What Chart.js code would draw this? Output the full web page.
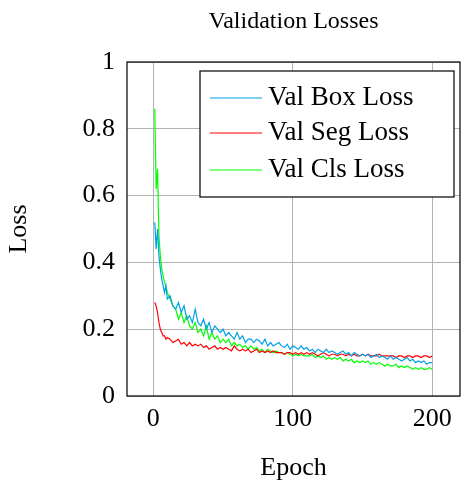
<!DOCTYPE html>
<html><head><meta charset="utf-8">
<script src="https://cdn.jsdelivr.net/npm/chart.js@4"></script>
<style>html,body{margin:0;padding:0;background:#fff}#c{display:block}</style>
</head><body>
<div style="width:474px;height:488px"><canvas id="c" width="474" height="488"></canvas></div>
<script>
const epochs=[1,2,3,4,5,6,7,8,9,10,12,14,16,18,20,22,24,26,28,30,32,34,36,38,40,42,44,46,48,50,52,54,56,58,60,62,64,66,68,70,72,74,76,78,80,82,84,86,88,90,92,94,96,98,100,102,104,106,108,110,112,114,116,118,120,122,124,126,128,130,132,134,136,138,140,142,144,146,148,150,152,154,156,158,160,162,164,166,168,170,172,174,176,178,180,182,184,186,188,190,192,194,196,198,200];
const boxLoss=[0.52,0.44,0.50,0.42,0.38,0.35,0.33,0.31,0.33,0.29,
0.30,0.27,0.26,0.28,0.25,0.27,0.23,0.24,0.22,0.26,
0.22,0.21,0.23,0.20,0.22,0.19,0.21,0.20,0.19,0.20,
0.18,0.19,0.18,0.17,0.19,0.17,0.18,0.16,0.17,0.17,
0.16,0.17,0.165,0.155,0.17,0.15,0.16,0.15,0.155,0.16,
0.15,0.145,0.155,0.14,0.15,0.145,0.14,0.15,0.14,0.145,
0.135,0.14,0.13,0.14,0.135,0.13,0.14,0.13,0.135,0.13,
0.125,0.13,0.135,0.125,0.13,0.12,0.13,0.125,0.12,0.125,
0.12,0.125,0.115,0.12,0.125,0.115,0.12,0.115,0.11,0.12,
0.11,0.115,0.11,0.105,0.11,0.115,0.105,0.11,0.1,0.105,
0.1,0.105,0.095,0.1,0.1];
const segLoss=[0.28,0.27,0.25,0.22,0.20,0.19,0.18,0.18,0.17,0.175,
0.17,0.16,0.165,0.17,0.155,0.16,0.15,0.16,0.15,0.155,
0.15,0.155,0.145,0.15,0.14,0.145,0.15,0.14,0.145,0.14,
0.145,0.14,0.135,0.15,0.14,0.135,0.14,0.135,0.14,0.13,
0.135,0.14,0.13,0.135,0.13,0.135,0.13,0.135,0.13,0.13,
0.13,0.125,0.13,0.13,0.125,0.13,0.125,0.13,0.125,0.13,
0.125,0.13,0.125,0.12,0.125,0.13,0.125,0.12,0.125,0.125,
0.12,0.125,0.125,0.12,0.125,0.12,0.125,0.12,0.12,0.125,
0.12,0.125,0.12,0.12,0.12,0.125,0.12,0.12,0.12,0.12,
0.12,0.115,0.12,0.12,0.115,0.12,0.12,0.115,0.12,0.12,
0.115,0.12,0.12,0.115,0.12];
const clsLoss=[0.86,0.62,0.68,0.48,0.42,0.38,0.36,0.34,0.33,0.31,
0.29,0.27,0.26,0.23,0.25,0.22,0.24,0.21,0.20,0.22,
0.19,0.20,0.18,0.21,0.17,0.19,0.17,0.18,0.16,0.17,
0.16,0.17,0.15,0.16,0.15,0.155,0.145,0.15,0.14,0.15,
0.14,0.145,0.135,0.14,0.13,0.14,0.135,0.13,0.135,0.13,
0.13,0.125,0.13,0.125,0.12,0.125,0.12,0.125,0.12,0.12,
0.12,0.125,0.115,0.12,0.115,0.12,0.11,0.115,0.11,0.115,
0.11,0.115,0.105,0.11,0.105,0.11,0.1,0.105,0.1,0.105,
0.1,0.105,0.095,0.1,0.095,0.1,0.095,0.09,0.095,0.09,
0.09,0.095,0.085,0.09,0.085,0.09,0.085,0.08,0.085,0.08,
0.085,0.08,0.08,0.085,0.08];
const seriesNames=['Val Box Loss','Val Seg Loss','Val Cls Loss'];
const xTicks=[0,100,200];
const FONT='"Liberation Serif", "DejaVu Serif", serif';
const mk=(arr)=>epochs.map((e,i)=>({x:e,y:arr[i]}));
const colors=['#00a0e8','#ff0000','#00ff00'];
const extras={id:'extras',afterDraw(ch){
  const c=ch.ctx,a=ch.chartArea;
  c.save();
  c.fillStyle='#000';c.font='24px '+FONT;c.textAlign='center';c.textBaseline='middle';
  c.fillText('Validation Losses',(a.left+a.right)/2,22);
  c.strokeStyle='#000';c.lineWidth=1.2;c.strokeRect(a.left,a.top,a.right-a.left,a.bottom-a.top);
  // legend
  const lx=200,ly=71,lw=254,lh=126;
  c.fillStyle='#fff';c.fillRect(lx,ly,lw,lh);
  c.strokeRect(lx,ly,lw,lh);
  c.font='27px '+FONT;c.textAlign='left';
  const rows=[98,133,170];
  seriesNames.forEach((n,i)=>{
    c.strokeStyle=colors[i];c.lineWidth=1.2;
    c.beginPath();c.moveTo(210,rows[i]);c.lineTo(262,rows[i]);c.stroke();
    c.fillStyle='#000';c.fillText(n,268,rows[i]);
  });
  c.restore();
}};
new Chart(document.getElementById('c'),{
  type:'line',
  data:{datasets:[boxLoss,segLoss,clsLoss].map((d,i)=>({label:seriesNames[i],data:mk(d),borderColor:colors[i],borderWidth:1.2,pointRadius:0,tension:0,fill:false}))},
  options:{responsive:false,animation:false,
    layout:{padding:{top:62,right:14,left:0,bottom:0}},
    plugins:{legend:{display:false},title:{display:false},tooltip:{enabled:false}},
    scales:{
      x:{type:'linear',min:-18.9,max:219.9,
        afterBuildTicks(s){s.ticks=xTicks.map(v=>({value:v}));},
        afterFit(s){s.height=92;},
        grid:{color:'#b3b3b3',drawTicks:false},border:{display:false},
        ticks:{font:{family:FONT,size:26},color:'#000',padding:8,maxRotation:0},
        title:{display:true,text:'Epoch',font:{family:FONT,size:26},color:'#000',padding:{top:12}}},
      y:{min:0,max:1,
        afterFit(s){s.width=127;},
        grid:{color:'#b3b3b3',drawTicks:false},border:{display:false},
        ticks:{stepSize:0.2,font:{family:FONT,size:26},color:'#000',padding:12,callback:v=>v===0?'0':v===1?'1':String(Math.round(v*10)/10)},
        title:{display:true,text:'Loss',font:{family:FONT,size:26},color:'#000',padding:{bottom:10}}}
    }},
  plugins:[extras]
});
</script></body></html>
